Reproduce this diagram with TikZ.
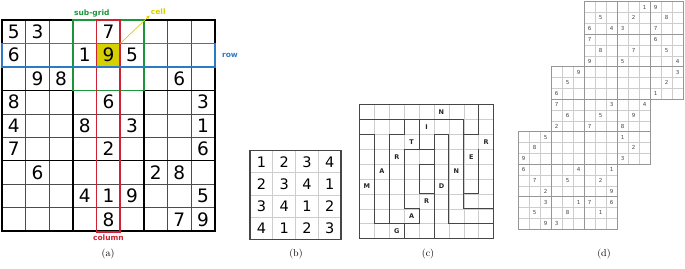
\documentclass[tikz,border=0pt]{standalone}
\usepackage{fontspec}
\newfontfamily\gridfont{DejaVu Sans}
\usetikzlibrary{arrows.meta, positioning, calc}

\definecolor{rowblue}{RGB}{45,122,196}
\definecolor{boxgreen}{RGB}{28,148,58}
\definecolor{colred}{RGB}{204,34,52}
\definecolor{cellyellow}{RGB}{214,208,0}
\definecolor{faint}{RGB}{205,205,205}
\definecolor{midgray}{RGB}{150,150,150}
\definecolor{inkgray}{RGB}{70,70,70}

\begin{document}
\begin{tikzpicture}[x=1pt, y=-1pt,
    thinline/.style={gray!60!black, line width=0.6pt},
    boxline/.style={black, line width=1.3pt, line cap=rect},
    mazeline/.style={inkgray, line width=0.9pt, line cap=rect},
    tag/.style={font=\gridfont\bfseries\fontsize{7.5}{8}\selectfont, inner sep=1pt},
    bigdigit/.style={font=\gridfont\fontsize{18.5}{20}\selectfont, inner sep=0pt},
    latindigit/.style={font=\gridfont\fontsize{14.5}{16}\selectfont, inner sep=0pt},
    mazeletter/.style={font=\gridfont\bfseries\fontsize{6.5}{7}\selectfont, inner sep=0pt, text=black!85},
    tinydigit/.style={font=\gridfont\fontsize{5.5}{6}\selectfont, inner sep=0pt, text=inkgray},
    subcap/.style={font=\fontsize{10}{12}\selectfont, inner sep=0pt}]
  \useasboundingbox (0,0) rectangle (685,268);

  % (a) Sudoku with its parts marked
  \def\ax{2} \def\ay{20} \def\aw{23.65} \def\ah{23.45}
  \node[fill=cellyellow, minimum width=23.65pt, minimum height=23.45pt,
        inner sep=0pt, outer sep=0pt, anchor=north west] (cellbox) at ({\ax+4*\aw},{\ay+\ah}) {};
  % Thin grid lines
  \foreach \i in {1,2,4,5,7,8} {
    \draw[thinline] ({\ax+\i*\aw},\ay) -- ({\ax+\i*\aw},{\ay+9*\ah});
    \draw[thinline] (\ax,{\ay+\i*\ah}) -- ({\ax+9*\aw},{\ay+\i*\ah});
  }
  % Box lines
  \foreach \i in {0,3,6,9} {
    \draw[boxline] ({\ax+\i*\aw},\ay) -- ({\ax+\i*\aw},{\ay+9*\ah});
    \draw[boxline] (\ax,{\ay+\i*\ah}) -- ({\ax+9*\aw},{\ay+\i*\ah});
  }
  % Givens
  \foreach \c/\r/\d in {0/0/5, 1/0/3, 4/0/7,
      0/1/6, 3/1/1, 4/1/9, 5/1/5,
      1/2/9, 2/2/8, 7/2/6,
      0/3/8, 4/3/6, 8/3/3,
      0/4/4, 3/4/8, 5/4/3, 8/4/1,
      0/5/7, 4/5/2, 8/5/6,
      1/6/6, 6/6/2, 7/6/8,
      3/7/4, 4/7/1, 5/7/9, 8/7/5,
      4/8/8, 7/8/7, 8/8/9} {
    \node[bigdigit] (a\c\r) at ({\ax+(\c+0.5)*\aw},{\ay+(\r+0.5)*\ah}) {\d};
  }
  % Marked parts
  \node[draw=boxgreen, line width=1.6pt, minimum width=70.95pt, minimum height=70.35pt,
        inner sep=0pt, outer sep=0pt, anchor=north west] (subgrid) at ({\ax+3*\aw},\ay) {};
  \node[draw=colred, line width=1.6pt, minimum width=23.65pt, minimum height=212pt,
        inner sep=0pt, outer sep=0pt, anchor=north west] (colbox) at ({\ax+4*\aw},\ay) {};
  \node[draw=rowblue, line width=1.6pt, minimum width=212.85pt, minimum height=23.45pt,
        inner sep=0pt, outer sep=0pt, anchor=north west] (rowbox) at (\ax,{\ay+\ah}) {};
  \node[tag, text=boxgreen, above right=2pt and 0pt of subgrid.north west] (subgridlab) {sub-grid};
  \node[tag, text=rowblue, right=6pt of rowbox.east] (rowlab) {row};
  \node[tag, text=colred, below=2pt of colbox.south] (collab) {column};
  \node[tag, text=cellyellow, above right=28pt and 29.5pt of cellbox.north east] (celllab) {cell};
  \draw[cellyellow, line width=0.7pt, -{Stealth[length=3.5pt, width=3pt]}]
    (cellbox.north east) -- (celllab.south west);

  % (b) Latin square
  \def\bx{250} \def\by{150.7} \def\bw{22.75} \def\bh{22.15}
  \foreach \i in {1,2,3} {
    \draw[faint, line width=0.8pt] ({\bx+\i*\bw},\by) -- ({\bx+\i*\bw},{\by+4*\bh});
    \draw[faint, line width=0.8pt] (\bx,{\by+\i*\bh}) -- ({\bx+4*\bw},{\by+\i*\bh});
  }
  \draw[inkgray, line width=1.3pt] (\bx,\by) rectangle ({\bx+4*\bw},{\by+4*\bh});
  \foreach \c in {0,...,3} {
    \foreach \r in {0,...,3} {
      \pgfmathtruncatemacro{\val}{mod(\c+\r,4)+1}
      \node[latindigit] (b\c\r) at ({\bx+(\c+0.5)*\bw},{\by+(\r+0.5)*\bh}) {\val};
    }
  }

  % (c) Jigsaw grid of letters
  \begin{scope}[shift={(359.5,104.5)}, x=14.9pt, y=-14.9pt]
    \foreach \i in {1,...,8} {
      \draw[faint, line width=0.5pt] (\i,0) -- (\i,9);
      \draw[faint, line width=0.5pt] (0,\i) -- (9,\i);
    }
    \draw[mazeline] (0,0) rectangle (9,9);
    \draw[mazeline] (0,1) -- (7,1) -- (7,7) -- (9,7);
    \draw[mazeline] (7,2) -- (8,2) -- (8,0);
    \draw[mazeline] (0,2) -- (1,2);
    \draw[mazeline] (2,2) -- (3,2) -- (3,1);
    \draw[mazeline] (1,2) -- (1,8) -- (4,8) -- (4,7) -- (3,7) -- (3,3) -- (5,3);
    \draw[mazeline] (2,2) -- (2,8);
    \draw[mazeline] (4,1) -- (4,3);
    \draw[mazeline] (3,8) -- (3,9);
    \draw[mazeline] (5,4) -- (4,4) -- (4,6) -- (5,6);
    \draw[mazeline] (6,2) -- (5,2) -- (5,9);
    \draw[mazeline] (6,2) -- (6,8) -- (9,8);
    \draw[mazeline] (8,3) -- (8,6) -- (7,6);
    \foreach \c/\r/\l in {5/0/N, 4/1/I, 3/2/T, 8/2/R, 2/3/R, 7/3/E, 1/4/A,
        6/4/N, 0/5/M, 5/5/D, 4/6/R, 3/7/A, 2/8/G} {
      \node[mazeletter] (c\c\r) at (\c+0.5,\r+0.5) {\l};
    }
  \end{scope}

  % (d) Three overlapping Sudoku grids
  \foreach \gx/\gy in {584/1.7, 551/66.7, 518/131.7} {
    \begin{scope}[shift={(\gx,\gy)}, x=11pt, y=-10.83pt]
      \foreach \i in {1,2,4,5,7,8} {
        \draw[faint, line width=0.4pt] (\i,0) -- (\i,9);
        \draw[faint, line width=0.4pt] (0,\i) -- (9,\i);
      }
    \end{scope}
  }
  \foreach \gx/\gy in {584/1.7, 551/66.7, 518/131.7} {
    \begin{scope}[shift={(\gx,\gy)}, x=11pt, y=-10.83pt]
      \foreach \i in {0,3,6,9} {
        \draw[midgray, line width=0.8pt, line cap=rect] (\i,0) -- (\i,9);
        \draw[midgray, line width=0.8pt, line cap=rect] (0,\i) -- (9,\i);
      }
    \end{scope}
  }
  % Top grid
  \begin{scope}[shift={(584,1.7)}, x=11pt, y=-10.83pt]
    \foreach \c/\r/\d in {5/0/1, 6/0/9, 1/1/5, 4/1/2, 7/1/8,
        0/2/6, 2/2/4, 3/2/3, 6/2/7, 0/3/7, 6/3/6,
        1/4/8, 4/4/7, 7/4/5, 0/5/9, 3/5/5, 8/5/4,
        8/6/3, 7/7/2, 6/8/1} {
      \node[tinydigit] (dt\c\r) at (\c+0.5,\r+0.5) {\d};
    }
  \end{scope}
  % Middle grid
  \begin{scope}[shift={(551,66.7)}, x=11pt, y=-10.83pt]
    \foreach \c/\r/\d in {2/0/9, 1/1/5, 0/2/6,
        0/3/7, 5/3/3, 8/3/4, 1/4/6, 4/4/5, 7/4/9,
        0/5/2, 3/5/7, 6/5/8, 6/6/1, 7/7/2, 6/8/3} {
      \node[tinydigit] (dm\c\r) at (\c+0.5,\r+0.5) {\d};
    }
  \end{scope}
  % Bottom grid
  \begin{scope}[shift={(518,131.7)}, x=11pt, y=-10.83pt]
    \foreach \c/\r/\d in {2/0/5, 1/1/8, 0/2/9,
        0/3/6, 5/3/4, 8/3/1, 1/4/7, 4/4/5, 7/4/2,
        2/5/2, 8/5/9, 2/6/3, 5/6/1, 6/6/7, 8/6/6,
        1/7/5, 4/7/8, 7/7/1, 2/8/9, 3/8/3} {
      \node[tinydigit] (db\c\r) at (\c+0.5,\r+0.5) {\d};
    }
  \end{scope}

  % Captions
  \node[subcap] (capa) at (108,254) {(a)};
  \node[subcap] (capb) at (296,254) {(b)};
  \node[subcap] (capc) at (428,254) {(c)};
  \node[subcap] (capd) at (604,254) {(d)};
\end{tikzpicture}
\end{document}
